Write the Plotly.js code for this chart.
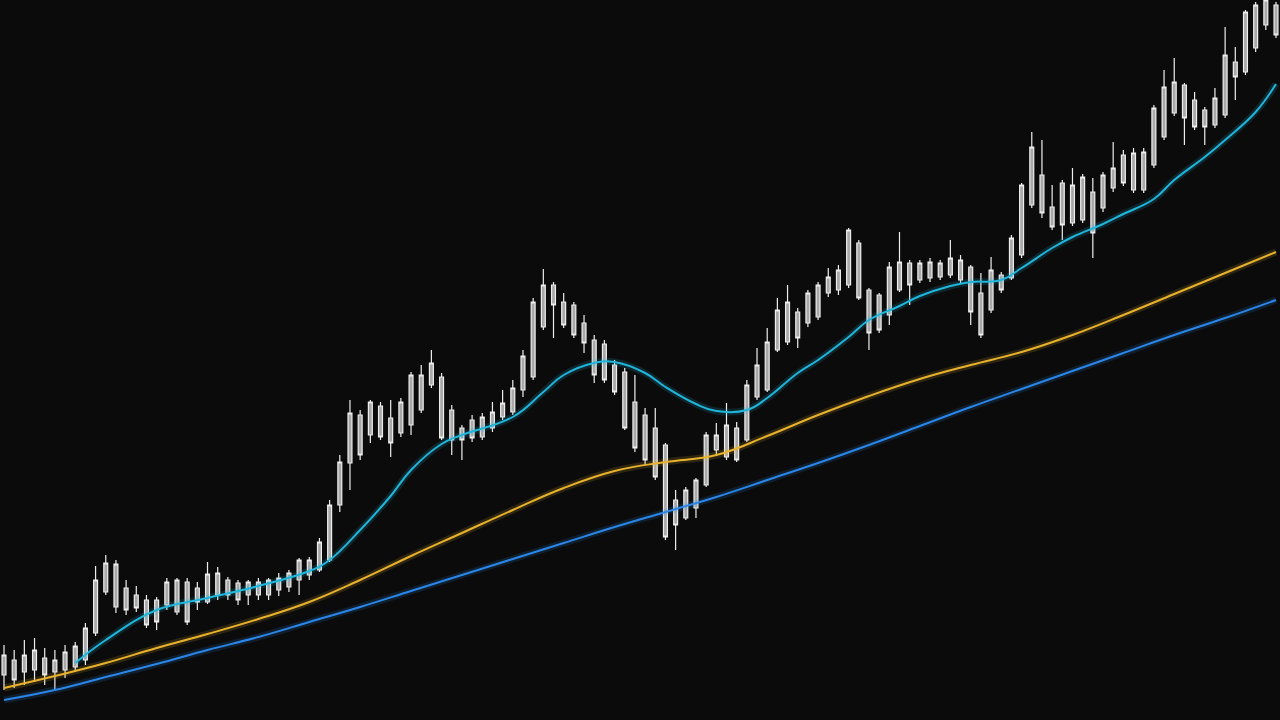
<!DOCTYPE html>
<html>
<head>
<meta charset="utf-8">
<script src="https://cdn.plot.ly/plotly-3.0.1.min.js"></script>
<style>
  html, body { margin: 0; padding: 0; background: #0b0b0b; }
  #chart { width: 1280px; height: 720px; }
</style>
</head>
<body>
<div id="chart"></div>
<script>
// Candle data (price units)
const open = [45,60,48,50,62,48,50,53,60,87,128,113,132,125,120,120,115,108,138,132,118,125,140,137,125,125,125,130,133,140,145,150,160,215,257,305,285,314,302,287,295,310,335,343,310,292,300,283,292,303,308,330,343,393,435,418,415,397,380,376,355,348,318,305,292,275,220,202,212,235,270,263,292,280,323,330,370,378,408,397,403,427,430,435,477,430,425,405,430,457,440,442,443,445,440,453,427,410,445,442,465,515,545,513,537,497,500,528,512,532,565,530,530,555,583,607,635,620,610,595,605,658,648,672,695,715];
const high = [75,70,80,82,72,70,75,78,97,154,165,160,140,134,125,123,142,142,142,138,158,153,143,140,140,142,142,147,150,162,163,182,220,265,320,310,320,318,320,322,348,355,370,347,315,295,305,307,318,330,340,370,422,451,438,427,418,405,385,380,360,352,345,312,312,277,230,233,242,288,297,317,298,340,372,392,422,435,412,430,438,452,455,492,480,432,427,458,488,460,460,462,460,480,465,455,447,463,448,485,537,588,580,535,540,552,546,542,548,578,570,572,572,615,650,662,637,628,613,632,693,673,710,718,725,718];
const low = [30,32,35,38,35,30,42,48,55,84,125,107,105,108,92,90,110,105,95,110,116,120,120,115,115,120,120,124,128,125,140,148,158,208,230,260,277,280,263,283,285,307,332,280,265,260,278,280,288,300,305,323,340,390,382,392,382,367,337,337,325,290,268,255,240,180,170,200,202,233,265,260,258,278,320,328,368,375,372,393,400,423,425,432,420,370,387,395,428,415,437,438,440,442,437,395,382,407,427,440,462,512,502,490,480,494,497,462,508,528,534,527,527,552,580,604,575,590,575,592,602,620,645,668,690,682];
const close = [65,40,65,70,45,60,68,74,92,140,157,156,110,112,95,98,138,140,98,118,146,147,125,120,138,138,140,142,147,160,160,178,215,258,307,265,318,283,277,318,345,345,357,282,280,280,282,303,308,317,332,364,418,435,415,395,385,377,345,340,328,292,272,260,243,183,195,230,240,285,285,295,260,335,355,378,410,418,382,427,435,443,450,490,422,387,390,453,458,435,457,458,457,462,460,408,385,450,430,482,535,573,507,493,495,535,543,487,545,552,537,567,568,612,633,638,602,593,593,622,665,643,708,715,720,685];

// Moving averages (at candle indices)
const fastIdx = [7,10,15,20,25,30,32,35,38,40,43,45,50,53,55,58,60,63,65,68,70,73,75,78,80,83,85,88,90,93,95,98,100,103,105,108,110,113,115,118,120,123,125];
const fastMA  = [57,80,110,122,134,149,160,190,224,250,276,285,303,328,345,357,358,347,333,316,309,310,322,347,360,383,400,414,424,434,438,440,452,472,483,496,506,521,540,563,580,608,636];
const slowIdx = [0,5,10,15,20,25,30,35,40,45,50,55,60,65,70,75,80,85,90,95,100,105,110,115,120,125];
const midMA   = [32,44,57,72,86,101,118,140,164,187,210,232,249,258,265,284,305,324,341,355,368,385,405,426,447,468];
const longMA  = [20,30,43,56,70,83,98,113,129,145,161,177,193,208,223,240,257,275,294,313,331,349,367,385,402,420];

const idx = open.map((_, i) => i);

function maTraces(x, y, color) {
  return [
    { type: 'scatter', mode: 'lines', x: x, y: y, hoverinfo: 'skip',
      line: { color: color, width: 7, shape: 'spline', smoothing: 1.2 }, opacity: 0.16 },
    { type: 'scatter', mode: 'lines', x: x, y: y, hoverinfo: 'skip',
      line: { color: color, width: 2, shape: 'spline', smoothing: 1.2 } }
  ];
}

const candleStyle = { line: { color: '#eeeeee', width: 1.2 }, fillcolor: 'rgba(185,185,185,0.9)' };
const candle = {
  type: 'candlestick', x: idx, open: open, high: high, low: low, close: close,
  increasing: candleStyle, decreasing: candleStyle,
  whiskerwidth: 0, hoverinfo: 'skip'
};

const data = [
  ...maTraces(slowIdx, longMA, '#2a86e8'),
  ...maTraces(slowIdx, midMA, '#e9b22c'),
  candle,
  ...maTraces(fastIdx, fastMA, '#1fb6dc')
];

const layout = {
  width: 1280, height: 720,
  margin: { l: 0, r: 0, t: 0, b: 0, pad: 0 },
  paper_bgcolor: '#0b0b0b', plot_bgcolor: '#0b0b0b',
  showlegend: false, boxgap: 0.45,
  xaxis: { visible: false, range: [-0.393, 125.393], rangeslider: { visible: false }, fixedrange: true },
  yaxis: { visible: false, range: [0, 720], fixedrange: true }
};

Plotly.newPlot('chart', data, layout, { staticPlot: true, displayModeBar: false });
</script>
</body>
</html>
